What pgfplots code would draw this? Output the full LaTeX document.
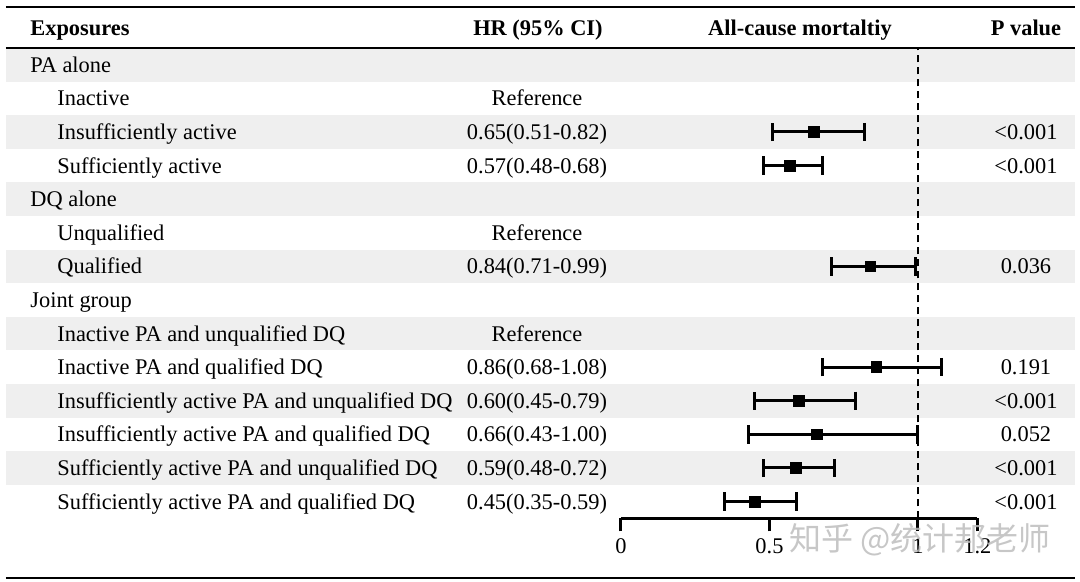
\documentclass[border=0pt]{standalone}
\usepackage{fontspec}
\setmainfont{Liberation Serif}
\newfontfamily\cjk{Noto Sans CJK SC}
\usepackage{pgfplots}
\pgfplotsset{compat=1.18}
\usepackage{pgfplotstable}

\definecolor{band}{HTML}{EFEFEF}
\definecolor{wm}{HTML}{BDBDBD}

% hazard ratios: row position, HR, lower and upper 95% CI
\pgfplotstableread{
y    hr   lo   hi
11.5 0.65 0.51 0.82
10.5 0.57 0.48 0.68
7.5  0.84 0.71 0.99
4.5  0.86 0.68 1.08
3.5  0.60 0.45 0.79
2.5  0.66 0.43 1.00
1.5  0.59 0.48 0.72
0.5  0.45 0.35 0.59
}\hrdata

\tikzset{
  txt/.style={font=\fontsize{11.2}{13}\selectfont, inner sep=0pt, anchor=base west, yshift=-3.8pt},
  ctr/.style={txt, anchor=base},
  hd/.style={font=\bfseries\fontsize{11.2}{13}\selectfont, inner sep=0pt, anchor=base, yshift=-3.8pt},
}

\begin{document}
\begin{tikzpicture}
\begin{axis}[
    scale only axis,
    width=178.2pt, height=235.2pt,
    xmin=0, xmax=1.2, ymin=0, ymax=14,
    clip=false,
    axis y line=none,
    axis x line=bottom,
    x axis line style={-, line width=1.5pt},
    xtick={0,0.5,1,1.2},
    xticklabels={0,0.5,1,1.2},
    tick align=outside,
    major tick length=6.5pt,
    tick style={black, line width=1.5pt},
    ticklabel style={font=\fontsize{11.2}{13}\selectfont},
    /pgf/number format/assume math mode=true,
]
% page size
\path (axis cs:-2.0909,-1.893) rectangle (axis cs:1.5455,15.4286);

% shaded rows
\fill[band] (axis cs:-2.0707,13) rectangle (axis cs:1.5286,14);
\fill[band] (axis cs:-2.0707,11) rectangle (axis cs:1.5286,12);
\fill[band] (axis cs:-2.0707,9) rectangle (axis cs:1.5286,10);
\fill[band] (axis cs:-2.0707,7) rectangle (axis cs:1.5286,8);
\fill[band] (axis cs:-2.0707,5) rectangle (axis cs:1.5286,6);
\fill[band] (axis cs:-2.0707,3) rectangle (axis cs:1.5286,4);
\fill[band] (axis cs:-2.0707,1) rectangle (axis cs:1.5286,2);

% rules
\draw[line width=1.4pt] (axis cs:-2.0707,15.22) -- (axis cs:1.5286,15.22);
\draw[line width=1.4pt] (axis cs:-2.0707,14) -- (axis cs:1.5286,14);
\draw[line width=1.4pt] (axis cs:-2.0707,-1.774) -- (axis cs:1.5286,-1.774);

% reference line at HR = 1
\draw[line width=1pt, dash pattern=on 3.5pt off 2.5pt] (axis cs:1,0) -- (axis cs:1,14);

\addplot[black, only marks, mark=square*, mark size=2.7pt,
    error bars/.cd, x dir=both, x explicit,
    error bar style={line width=1.5pt},
    error mark options={rotate=90, mark size=4.6pt, line width=1.5pt}]
    table[x=hr, y=y,
          x error plus expr=\thisrow{hi}-\thisrow{hr},
          x error minus expr=\thisrow{hr}-\thisrow{lo}] {\hrdata};

% header
\node[hd, anchor=base west] at (axis cs:-1.9899,14.595) {Exposures};
\node[hd] at (axis cs:-0.2795,14.595) {HR (95\% CI)};
\node[hd] at (axis cs:0.6027,14.595) {All-cause mortaltiy};
\node[hd] at (axis cs:1.3636,14.595) {P value};

% table body
\node[txt] at (axis cs:-1.9899,13.5) {PA alone};
\node[txt] at (axis cs:-1.899,12.5) {Inactive};
\node[ctr] at (axis cs:-0.2828,12.5) {Reference};
\node[txt] at (axis cs:-1.899,11.5) {Insufficiently active};
\node[ctr] at (axis cs:-0.2828,11.5) {0.65(0.51-0.82)};
\node[ctr] at (axis cs:1.3636,11.5) {<0.001};
\node[txt] at (axis cs:-1.899,10.5) {Sufficiently active};
\node[ctr] at (axis cs:-0.2828,10.5) {0.57(0.48-0.68)};
\node[ctr] at (axis cs:1.3636,10.5) {<0.001};
\node[txt] at (axis cs:-1.9899,9.5) {DQ alone};
\node[txt] at (axis cs:-1.899,8.5) {Unqualified};
\node[ctr] at (axis cs:-0.2828,8.5) {Reference};
\node[txt] at (axis cs:-1.899,7.5) {Qualified};
\node[ctr] at (axis cs:-0.2828,7.5) {0.84(0.71-0.99)};
\node[ctr] at (axis cs:1.3636,7.5) {0.036};
\node[txt] at (axis cs:-1.9899,6.5) {Joint group};
\node[txt] at (axis cs:-1.899,5.5) {Inactive PA and unqualified DQ};
\node[ctr] at (axis cs:-0.2828,5.5) {Reference};
\node[txt] at (axis cs:-1.899,4.5) {Inactive PA and qualified DQ};
\node[ctr] at (axis cs:-0.2828,4.5) {0.86(0.68-1.08)};
\node[ctr] at (axis cs:1.3636,4.5) {0.191};
\node[txt] at (axis cs:-1.899,3.5) {Insufficiently active PA and unqualified DQ};
\node[ctr] at (axis cs:-0.2828,3.5) {0.60(0.45-0.79)};
\node[ctr] at (axis cs:1.3636,3.5) {<0.001};
\node[txt] at (axis cs:-1.899,2.5) {Insufficiently active PA and qualified DQ};
\node[ctr] at (axis cs:-0.2828,2.5) {0.66(0.43-1.00)};
\node[ctr] at (axis cs:1.3636,2.5) {0.052};
\node[txt] at (axis cs:-1.899,1.5) {Sufficiently active PA and unqualified DQ};
\node[ctr] at (axis cs:-0.2828,1.5) {0.59(0.48-0.72)};
\node[ctr] at (axis cs:1.3636,1.5) {<0.001};
\node[txt] at (axis cs:-1.899,0.5) {Sufficiently active PA and qualified DQ};
\node[ctr] at (axis cs:-0.2828,0.5) {0.45(0.35-0.59)};
\node[ctr] at (axis cs:1.3636,0.5) {<0.001};

% watermark
\node[font=\cjk\fontsize{16}{18}\selectfont, text=wm, opacity=0.85] at (axis cs:1.0067,-0.643) {知乎 @统计邦老师};
\end{axis}
\end{tikzpicture}
\end{document}
